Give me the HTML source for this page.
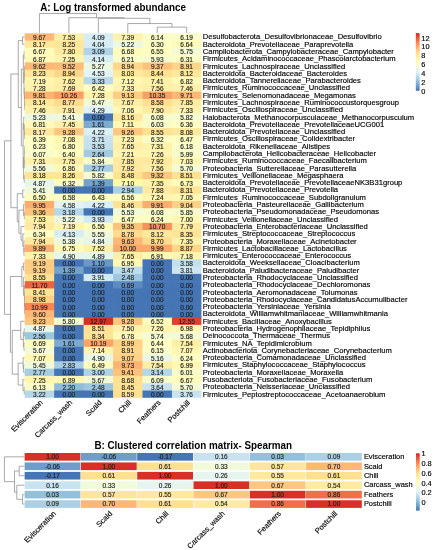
<!DOCTYPE html>
<html><head><meta charset="utf-8"><title>Heatmaps</title><style>html,body{margin:0;padding:0;background:#fff;}svg{display:block;}text{font-family:'Liberation Sans', Arial, Helvetica, sans-serif;}</style></head><body>
<svg width="436" height="550" viewBox="0 0 436 550">
<rect x="0" y="0" width="436" height="550" fill="#fff"/>
<path d="M24.70 292.10H24.70V299.38H24.70 M24.70 313.97H24.70V295.74H24.70 M24.70 306.68H24.70V304.85H24.70 M24.70 284.81H24.68V305.76H24.70 M24.70 73.39H24.65V80.69H24.70 M24.70 146.30H24.62V153.58H24.70 M24.70 102.55H24.62V109.84H24.70 M24.70 131.72H24.61V139.00H24.70 M24.70 95.27H24.56V106.20H24.62 M24.70 66.10H24.56V77.04H24.65 M24.70 124.42H24.49V135.36H24.61 M24.70 160.88H24.48V168.17H24.70 M24.62 149.94H24.40V164.52H24.48 M24.70 87.97H24.35V100.73H24.56 M24.70 211.90H24.35V219.19H24.70 M24.70 175.45H24.29V182.75H24.70 M24.70 328.55H24.28V335.84H24.70 M24.70 386.87H24.27V394.16H24.70 M24.70 51.52H24.12V58.81H24.70 M24.56 71.57H24.09V94.35H24.35 M24.70 343.12H24.00V350.42H24.70 M24.70 248.36H23.98V255.64H24.70 M24.70 241.06H23.95V252.00H23.98 M24.70 117.13H23.73V129.89H24.49 M24.70 262.94H23.68V270.23H24.70 M24.70 365.00H23.68V372.29H24.70 M24.40 157.23H23.64V179.10H24.29 M24.70 204.62H23.61V215.55H24.35 M24.70 277.51H23.41V295.28H24.68 M24.28 332.19H23.35V346.77H24.00 M24.12 55.17H23.32V82.96H24.09 M23.73 123.51H23.12V168.17H23.64 M24.70 357.71H23.10V368.64H23.68 M24.70 379.57H22.93V390.51H24.27 M24.70 233.77H22.83V246.53H23.95 M24.70 190.04H22.73V197.32H24.70 M24.70 36.95H22.47V44.23H24.70 M23.68 266.58H21.84V286.40H23.41 M23.32 69.07H21.33V145.84H23.12 M24.70 226.49H21.01V240.15H22.83 M24.70 321.25H20.78V339.48H23.35 M23.61 210.08H18.92V233.32H21.01 M22.47 40.59H18.28V107.45H21.33 M23.10 363.17H18.15V385.04H22.93 M22.73 193.68H17.26V221.70H18.92 M20.78 330.37H12.25V374.11H18.15 M18.28 74.02H10.89V207.69H17.26 M21.84 276.49H10.42V352.24H12.25 M10.89 140.86H4.51V314.36H10.42" fill="none" stroke="#8c8c8c" stroke-width="0.75"/>
<path d="M157.22 33.30V27.14H186.67V33.30 M127.78 33.30V23.55H171.95V27.14 M98.33 33.30V18.30H149.86V23.55 M68.88 33.30V17.71H124.09V18.30 M39.42 33.30V13.49H96.48V17.71" fill="none" stroke="#8c8c8c" stroke-width="0.75"/>
<rect x="24.70" y="33.30" width="30.05" height="7.89" fill="#fdb875"/>
<rect x="54.15" y="33.30" width="30.05" height="7.89" fill="#feefa7"/>
<rect x="83.60" y="33.30" width="30.05" height="7.89" fill="#d6edf4"/>
<rect x="113.05" y="33.30" width="30.05" height="7.89" fill="#fff3ac"/>
<rect x="142.50" y="33.30" width="30.05" height="7.89" fill="#fafdc8"/>
<rect x="171.95" y="33.30" width="29.45" height="7.89" fill="#fafdc8"/>
<rect x="24.70" y="40.59" width="30.05" height="7.89" fill="#fee89b"/>
<rect x="54.15" y="40.59" width="30.05" height="7.89" fill="#fee699"/>
<rect x="83.60" y="40.59" width="30.05" height="7.89" fill="#d6edf4"/>
<rect x="113.05" y="40.59" width="30.05" height="7.89" fill="#edf8e0"/>
<rect x="142.50" y="40.59" width="30.05" height="7.89" fill="#fcfec4"/>
<rect x="171.95" y="40.59" width="29.45" height="7.89" fill="#fffcbb"/>
<rect x="24.70" y="47.88" width="30.05" height="7.89" fill="#fffcbb"/>
<rect x="54.15" y="47.88" width="30.05" height="7.89" fill="#feeba1"/>
<rect x="83.60" y="47.88" width="30.05" height="7.89" fill="#b0d3e6"/>
<rect x="113.05" y="47.88" width="30.05" height="7.89" fill="#fffcbb"/>
<rect x="142.50" y="47.88" width="30.05" height="7.89" fill="#fffebe"/>
<rect x="171.95" y="47.88" width="29.45" height="7.89" fill="#f5fbd2"/>
<rect x="24.70" y="55.17" width="30.05" height="7.89" fill="#fffab8"/>
<rect x="54.15" y="55.17" width="30.05" height="7.89" fill="#fff5af"/>
<rect x="83.60" y="55.17" width="30.05" height="7.89" fill="#d6edf4"/>
<rect x="113.05" y="55.17" width="30.05" height="7.89" fill="#fafdc8"/>
<rect x="142.50" y="55.17" width="30.05" height="7.89" fill="#f7fccf"/>
<rect x="171.95" y="55.17" width="29.45" height="7.89" fill="#fcfec4"/>
<rect x="24.70" y="62.46" width="30.05" height="7.89" fill="#fdb875"/>
<rect x="54.15" y="62.46" width="30.05" height="7.89" fill="#fdbd79"/>
<rect x="83.60" y="62.46" width="30.05" height="7.89" fill="#edf8e0"/>
<rect x="113.05" y="62.46" width="30.05" height="7.89" fill="#fed689"/>
<rect x="142.50" y="62.46" width="30.05" height="7.89" fill="#fdc27c"/>
<rect x="171.95" y="62.46" width="29.45" height="7.89" fill="#fed689"/>
<rect x="24.70" y="69.75" width="30.05" height="7.89" fill="#fee699"/>
<rect x="54.15" y="69.75" width="30.05" height="7.89" fill="#fed689"/>
<rect x="83.60" y="69.75" width="30.05" height="7.89" fill="#e2f4f5"/>
<rect x="113.05" y="69.75" width="30.05" height="7.89" fill="#fee99e"/>
<rect x="142.50" y="69.75" width="30.05" height="7.89" fill="#fee293"/>
<rect x="171.95" y="69.75" width="29.45" height="7.89" fill="#fee89b"/>
<rect x="24.70" y="77.04" width="30.05" height="7.89" fill="#fff5af"/>
<rect x="54.15" y="77.04" width="30.05" height="7.89" fill="#feefa7"/>
<rect x="83.60" y="77.04" width="30.05" height="7.89" fill="#badaea"/>
<rect x="113.05" y="77.04" width="30.05" height="7.89" fill="#fff7b2"/>
<rect x="142.50" y="77.04" width="30.05" height="7.89" fill="#fff1aa"/>
<rect x="171.95" y="77.04" width="29.45" height="7.89" fill="#fffab8"/>
<rect x="24.70" y="84.33" width="30.05" height="7.89" fill="#fff3ac"/>
<rect x="54.15" y="84.33" width="30.05" height="7.89" fill="#feeda4"/>
<rect x="83.60" y="84.33" width="30.05" height="7.89" fill="#feffc1"/>
<rect x="113.05" y="84.33" width="30.05" height="7.89" fill="#fff3ac"/>
<rect x="142.50" y="84.33" width="30.05" height="7.89" fill="#feefa7"/>
<rect x="171.95" y="84.33" width="29.45" height="7.89" fill="#fff1aa"/>
<rect x="24.70" y="91.62" width="30.05" height="7.89" fill="#fdb372"/>
<rect x="54.15" y="91.62" width="30.05" height="7.89" fill="#fc9f65"/>
<rect x="83.60" y="91.62" width="30.05" height="7.89" fill="#fff3ac"/>
<rect x="113.05" y="91.62" width="30.05" height="7.89" fill="#fecc83"/>
<rect x="142.50" y="91.62" width="30.05" height="7.89" fill="#fc9f65"/>
<rect x="171.95" y="91.62" width="29.45" height="7.89" fill="#fdb875"/>
<rect x="24.70" y="98.91" width="30.05" height="7.89" fill="#fee89b"/>
<rect x="54.15" y="98.91" width="30.05" height="7.89" fill="#fedb8d"/>
<rect x="83.60" y="98.91" width="30.05" height="7.89" fill="#f1fad9"/>
<rect x="113.05" y="98.91" width="30.05" height="7.89" fill="#feeda4"/>
<rect x="142.50" y="98.91" width="30.05" height="7.89" fill="#fee090"/>
<rect x="171.95" y="98.91" width="29.45" height="7.89" fill="#feeba1"/>
<rect x="24.70" y="106.20" width="30.05" height="7.89" fill="#fff1aa"/>
<rect x="54.15" y="106.20" width="30.05" height="7.89" fill="#feeba1"/>
<rect x="83.60" y="106.20" width="30.05" height="7.89" fill="#e0f3f8"/>
<rect x="113.05" y="106.20" width="30.05" height="7.89" fill="#fff7b2"/>
<rect x="142.50" y="106.20" width="30.05" height="7.89" fill="#feeba1"/>
<rect x="171.95" y="106.20" width="29.45" height="7.89" fill="#fff3ac"/>
<rect x="24.70" y="113.49" width="30.05" height="7.89" fill="#edf8e0"/>
<rect x="54.15" y="113.49" width="30.05" height="7.89" fill="#eff9dc"/>
<rect x="83.60" y="113.49" width="30.05" height="7.89" fill="#4575b4"/>
<rect x="113.05" y="113.49" width="30.05" height="7.89" fill="#fee89b"/>
<rect x="142.50" y="113.49" width="30.05" height="7.89" fill="#f8fccb"/>
<rect x="171.95" y="113.49" width="29.45" height="7.89" fill="#f5fbd2"/>
<rect x="24.70" y="120.78" width="30.05" height="7.89" fill="#fffab8"/>
<rect x="54.15" y="120.78" width="30.05" height="7.89" fill="#fff1aa"/>
<rect x="83.60" y="120.78" width="30.05" height="7.89" fill="#7cabd0"/>
<rect x="113.05" y="120.78" width="30.05" height="7.89" fill="#fff7b2"/>
<rect x="142.50" y="120.78" width="30.05" height="7.89" fill="#f8fccb"/>
<rect x="171.95" y="120.78" width="29.45" height="7.89" fill="#feffc1"/>
<rect x="24.70" y="128.07" width="30.05" height="7.89" fill="#fee89b"/>
<rect x="54.15" y="128.07" width="30.05" height="7.89" fill="#fdc77f"/>
<rect x="83.60" y="128.07" width="30.05" height="7.89" fill="#dbf0f6"/>
<rect x="113.05" y="128.07" width="30.05" height="7.89" fill="#fdc77f"/>
<rect x="142.50" y="128.07" width="30.05" height="7.89" fill="#fee293"/>
<rect x="171.95" y="128.07" width="29.45" height="7.89" fill="#fee89b"/>
<rect x="24.70" y="135.36" width="30.05" height="7.89" fill="#feffc1"/>
<rect x="54.15" y="135.36" width="30.05" height="7.89" fill="#fff7b2"/>
<rect x="83.60" y="135.36" width="30.05" height="7.89" fill="#c8e3ef"/>
<rect x="113.05" y="135.36" width="30.05" height="7.89" fill="#fff5af"/>
<rect x="142.50" y="135.36" width="30.05" height="7.89" fill="#fcfec4"/>
<rect x="171.95" y="135.36" width="29.45" height="7.89" fill="#feffc1"/>
<rect x="24.70" y="142.65" width="30.05" height="7.89" fill="#fcfec4"/>
<rect x="54.15" y="142.65" width="30.05" height="7.89" fill="#fffab8"/>
<rect x="83.60" y="142.65" width="30.05" height="7.89" fill="#c3e0ed"/>
<rect x="113.05" y="142.65" width="30.05" height="7.89" fill="#feefa7"/>
<rect x="142.50" y="142.65" width="30.05" height="7.89" fill="#fff3ac"/>
<rect x="171.95" y="142.65" width="29.45" height="7.89" fill="#fafdc8"/>
<rect x="24.70" y="149.94" width="30.05" height="7.89" fill="#f8fccb"/>
<rect x="54.15" y="149.94" width="30.05" height="7.89" fill="#feffc1"/>
<rect x="83.60" y="149.94" width="30.05" height="7.89" fill="#a2cae1"/>
<rect x="113.05" y="149.94" width="30.05" height="7.89" fill="#fff5af"/>
<rect x="142.50" y="149.94" width="30.05" height="7.89" fill="#fff5af"/>
<rect x="171.95" y="149.94" width="29.45" height="7.89" fill="#f8fccb"/>
<rect x="24.70" y="157.23" width="30.05" height="7.89" fill="#fff3ac"/>
<rect x="54.15" y="157.23" width="30.05" height="7.89" fill="#feeda4"/>
<rect x="83.60" y="157.23" width="30.05" height="7.89" fill="#f7fccf"/>
<rect x="113.05" y="157.23" width="30.05" height="7.89" fill="#feeba1"/>
<rect x="142.50" y="157.23" width="30.05" height="7.89" fill="#fee99e"/>
<rect x="171.95" y="157.23" width="29.45" height="7.89" fill="#fff7b2"/>
<rect x="24.70" y="164.52" width="30.05" height="7.89" fill="#f1fad9"/>
<rect x="54.15" y="164.52" width="30.05" height="7.89" fill="#fffab8"/>
<rect x="83.60" y="164.52" width="30.05" height="7.89" fill="#a7cde3"/>
<rect x="113.05" y="164.52" width="30.05" height="7.89" fill="#fee99e"/>
<rect x="142.50" y="164.52" width="30.05" height="7.89" fill="#feefa7"/>
<rect x="171.95" y="164.52" width="29.45" height="7.89" fill="#f3fad5"/>
<rect x="24.70" y="171.81" width="30.05" height="7.89" fill="#fee699"/>
<rect x="54.15" y="171.81" width="30.05" height="7.89" fill="#fee699"/>
<rect x="83.60" y="171.81" width="30.05" height="7.89" fill="#f5fbd2"/>
<rect x="113.05" y="171.81" width="30.05" height="7.89" fill="#fee293"/>
<rect x="142.50" y="171.81" width="30.05" height="7.89" fill="#fdc77f"/>
<rect x="171.95" y="171.81" width="29.45" height="7.89" fill="#fee293"/>
<rect x="24.70" y="179.10" width="30.05" height="7.89" fill="#e8f6ea"/>
<rect x="54.15" y="179.10" width="30.05" height="7.89" fill="#fcfec4"/>
<rect x="83.60" y="179.10" width="30.05" height="7.89" fill="#73a2cc"/>
<rect x="113.05" y="179.10" width="30.05" height="7.89" fill="#fff7b2"/>
<rect x="142.50" y="179.10" width="30.05" height="7.89" fill="#fff3ac"/>
<rect x="171.95" y="179.10" width="29.45" height="7.89" fill="#fffcbb"/>
<rect x="24.70" y="186.39" width="30.05" height="7.89" fill="#eff9dc"/>
<rect x="54.15" y="186.39" width="30.05" height="7.89" fill="#4575b4"/>
<rect x="83.60" y="186.39" width="30.05" height="7.89" fill="#4575b4"/>
<rect x="113.05" y="186.39" width="30.05" height="7.89" fill="#abd0e5"/>
<rect x="142.50" y="186.39" width="30.05" height="7.89" fill="#feeba1"/>
<rect x="171.95" y="186.39" width="29.45" height="7.89" fill="#fee496"/>
<rect x="24.70" y="193.68" width="30.05" height="7.89" fill="#fffebe"/>
<rect x="54.15" y="193.68" width="30.05" height="7.89" fill="#fffebe"/>
<rect x="83.60" y="193.68" width="30.05" height="7.89" fill="#feffc1"/>
<rect x="113.05" y="193.68" width="30.05" height="7.89" fill="#fffebe"/>
<rect x="142.50" y="193.68" width="30.05" height="7.89" fill="#fff5af"/>
<rect x="171.95" y="193.68" width="29.45" height="7.89" fill="#fff7b2"/>
<rect x="24.70" y="200.97" width="30.05" height="7.89" fill="#fdae6f"/>
<rect x="54.15" y="200.97" width="30.05" height="7.89" fill="#e4f4f1"/>
<rect x="83.60" y="200.97" width="30.05" height="7.89" fill="#dbf0f6"/>
<rect x="113.05" y="200.97" width="30.05" height="7.89" fill="#fee293"/>
<rect x="142.50" y="200.97" width="30.05" height="7.89" fill="#fdae6f"/>
<rect x="171.95" y="200.97" width="29.45" height="7.89" fill="#fed186"/>
<rect x="24.70" y="208.26" width="30.05" height="7.89" fill="#fdc27c"/>
<rect x="54.15" y="208.26" width="30.05" height="7.89" fill="#b5d7e8"/>
<rect x="83.60" y="208.26" width="30.05" height="7.89" fill="#4575b4"/>
<rect x="113.05" y="208.26" width="30.05" height="7.89" fill="#f1fad9"/>
<rect x="142.50" y="208.26" width="30.05" height="7.89" fill="#f8fccb"/>
<rect x="171.95" y="208.26" width="29.45" height="7.89" fill="#f7fccf"/>
<rect x="24.70" y="215.55" width="30.05" height="7.89" fill="#feefa7"/>
<rect x="54.15" y="215.55" width="30.05" height="7.89" fill="#edf8e0"/>
<rect x="83.60" y="215.55" width="30.05" height="7.89" fill="#d2eaf3"/>
<rect x="113.05" y="215.55" width="30.05" height="7.89" fill="#feffc1"/>
<rect x="142.50" y="215.55" width="30.05" height="7.89" fill="#fcfec4"/>
<rect x="171.95" y="215.55" width="29.45" height="7.89" fill="#fff8b5"/>
<rect x="24.70" y="222.84" width="30.05" height="7.89" fill="#fee99e"/>
<rect x="54.15" y="222.84" width="30.05" height="7.89" fill="#fff5af"/>
<rect x="83.60" y="222.84" width="30.05" height="7.89" fill="#fffebe"/>
<rect x="113.05" y="222.84" width="30.05" height="7.89" fill="#fdc27c"/>
<rect x="142.50" y="222.84" width="30.05" height="7.89" fill="#fc905b"/>
<rect x="171.95" y="222.84" width="29.45" height="7.89" fill="#feeba1"/>
<rect x="24.70" y="230.13" width="30.05" height="7.89" fill="#fcfec4"/>
<rect x="54.15" y="230.13" width="30.05" height="7.89" fill="#d6edf4"/>
<rect x="83.60" y="230.13" width="30.05" height="7.89" fill="#f1fad9"/>
<rect x="113.05" y="230.13" width="30.05" height="7.89" fill="#fedb8d"/>
<rect x="142.50" y="230.13" width="30.05" height="7.89" fill="#fee89b"/>
<rect x="171.95" y="230.13" width="29.45" height="7.89" fill="#fee496"/>
<rect x="24.70" y="237.42" width="30.05" height="7.89" fill="#fee99e"/>
<rect x="54.15" y="237.42" width="30.05" height="7.89" fill="#eff9dc"/>
<rect x="83.60" y="237.42" width="30.05" height="7.89" fill="#e8f6ea"/>
<rect x="113.05" y="237.42" width="30.05" height="7.89" fill="#fdb875"/>
<rect x="142.50" y="237.42" width="30.05" height="7.89" fill="#fedb8d"/>
<rect x="171.95" y="237.42" width="29.45" height="7.89" fill="#fff3ac"/>
<rect x="24.70" y="244.71" width="30.05" height="7.89" fill="#fdae6f"/>
<rect x="54.15" y="244.71" width="30.05" height="7.89" fill="#fffab8"/>
<rect x="83.60" y="244.71" width="30.05" height="7.89" fill="#fff1aa"/>
<rect x="113.05" y="244.71" width="30.05" height="7.89" fill="#fda96b"/>
<rect x="142.50" y="244.71" width="30.05" height="7.89" fill="#fda96b"/>
<rect x="171.95" y="244.71" width="29.45" height="7.89" fill="#fed689"/>
<rect x="24.70" y="252.00" width="30.05" height="7.89" fill="#fff3ac"/>
<rect x="54.15" y="252.00" width="30.05" height="7.89" fill="#e8f6ea"/>
<rect x="83.60" y="252.00" width="30.05" height="7.89" fill="#e8f6ea"/>
<rect x="113.05" y="252.00" width="30.05" height="7.89" fill="#feefa7"/>
<rect x="142.50" y="252.00" width="30.05" height="7.89" fill="#fff8b5"/>
<rect x="171.95" y="252.00" width="29.45" height="7.89" fill="#fff5af"/>
<rect x="24.70" y="259.29" width="30.05" height="7.89" fill="#fecc83"/>
<rect x="54.15" y="259.29" width="30.05" height="7.89" fill="#4575b4"/>
<rect x="83.60" y="259.29" width="30.05" height="7.89" fill="#6a99c7"/>
<rect x="113.05" y="259.29" width="30.05" height="7.89" fill="#fff8b5"/>
<rect x="142.50" y="259.29" width="30.05" height="7.89" fill="#4575b4"/>
<rect x="171.95" y="259.29" width="29.45" height="7.89" fill="#c3e0ed"/>
<rect x="24.70" y="266.58" width="30.05" height="7.89" fill="#fecc83"/>
<rect x="54.15" y="266.58" width="30.05" height="7.89" fill="#73a2cc"/>
<rect x="83.60" y="266.58" width="30.05" height="7.89" fill="#4575b4"/>
<rect x="113.05" y="266.58" width="30.05" height="7.89" fill="#beddec"/>
<rect x="142.50" y="266.58" width="30.05" height="7.89" fill="#4575b4"/>
<rect x="171.95" y="266.58" width="29.45" height="7.89" fill="#cde6f1"/>
<rect x="24.70" y="273.87" width="30.05" height="7.89" fill="#fee293"/>
<rect x="54.15" y="273.87" width="30.05" height="7.89" fill="#4575b4"/>
<rect x="83.60" y="273.87" width="30.05" height="7.89" fill="#d2eaf3"/>
<rect x="113.05" y="273.87" width="30.05" height="7.89" fill="#9dc7df"/>
<rect x="142.50" y="273.87" width="30.05" height="7.89" fill="#4575b4"/>
<rect x="171.95" y="273.87" width="29.45" height="7.89" fill="#4575b4"/>
<rect x="24.70" y="281.16" width="30.05" height="7.89" fill="#eb6342"/>
<rect x="54.15" y="281.16" width="30.05" height="7.89" fill="#4575b4"/>
<rect x="83.60" y="281.16" width="30.05" height="7.89" fill="#4575b4"/>
<rect x="113.05" y="281.16" width="30.05" height="7.89" fill="#5c8bc0"/>
<rect x="142.50" y="281.16" width="30.05" height="7.89" fill="#4575b4"/>
<rect x="171.95" y="281.16" width="29.45" height="7.89" fill="#4575b4"/>
<rect x="24.70" y="288.45" width="30.05" height="7.89" fill="#fee496"/>
<rect x="54.15" y="288.45" width="30.05" height="7.89" fill="#4575b4"/>
<rect x="83.60" y="288.45" width="30.05" height="7.89" fill="#4575b4"/>
<rect x="113.05" y="288.45" width="30.05" height="7.89" fill="#4575b4"/>
<rect x="142.50" y="288.45" width="30.05" height="7.89" fill="#4575b4"/>
<rect x="171.95" y="288.45" width="29.45" height="7.89" fill="#4575b4"/>
<rect x="24.70" y="295.74" width="30.05" height="7.89" fill="#fed186"/>
<rect x="54.15" y="295.74" width="30.05" height="7.89" fill="#4575b4"/>
<rect x="83.60" y="295.74" width="30.05" height="7.89" fill="#4575b4"/>
<rect x="113.05" y="295.74" width="30.05" height="7.89" fill="#4575b4"/>
<rect x="142.50" y="295.74" width="30.05" height="7.89" fill="#4575b4"/>
<rect x="171.95" y="295.74" width="29.45" height="7.89" fill="#4575b4"/>
<rect x="24.70" y="303.03" width="30.05" height="7.89" fill="#f98554"/>
<rect x="54.15" y="303.03" width="30.05" height="7.89" fill="#4575b4"/>
<rect x="83.60" y="303.03" width="30.05" height="7.89" fill="#4575b4"/>
<rect x="113.05" y="303.03" width="30.05" height="7.89" fill="#4575b4"/>
<rect x="142.50" y="303.03" width="30.05" height="7.89" fill="#4575b4"/>
<rect x="171.95" y="303.03" width="29.45" height="7.89" fill="#4575b4"/>
<rect x="24.70" y="310.32" width="30.05" height="7.89" fill="#fdb875"/>
<rect x="54.15" y="310.32" width="30.05" height="7.89" fill="#4575b4"/>
<rect x="83.60" y="310.32" width="30.05" height="7.89" fill="#4575b4"/>
<rect x="113.05" y="310.32" width="30.05" height="7.89" fill="#4575b4"/>
<rect x="142.50" y="310.32" width="30.05" height="7.89" fill="#4575b4"/>
<rect x="171.95" y="310.32" width="29.45" height="7.89" fill="#4575b4"/>
<rect x="24.70" y="317.61" width="30.05" height="7.89" fill="#fdc77f"/>
<rect x="54.15" y="317.61" width="30.05" height="7.89" fill="#f5fbd2"/>
<rect x="83.60" y="317.61" width="30.05" height="7.89" fill="#d73027"/>
<rect x="113.05" y="317.61" width="30.05" height="7.89" fill="#fdc77f"/>
<rect x="142.50" y="317.61" width="30.05" height="7.89" fill="#fffebe"/>
<rect x="171.95" y="317.61" width="29.45" height="7.89" fill="#de4130"/>
<rect x="24.70" y="324.90" width="30.05" height="7.89" fill="#e8f6ea"/>
<rect x="54.15" y="324.90" width="30.05" height="7.89" fill="#4575b4"/>
<rect x="83.60" y="324.90" width="30.05" height="7.89" fill="#fee293"/>
<rect x="113.05" y="324.90" width="30.05" height="7.89" fill="#fff1aa"/>
<rect x="142.50" y="324.90" width="30.05" height="7.89" fill="#fff5af"/>
<rect x="171.95" y="324.90" width="29.45" height="7.89" fill="#fff8b5"/>
<rect x="24.70" y="332.19" width="30.05" height="7.89" fill="#9dc7df"/>
<rect x="54.15" y="332.19" width="30.05" height="7.89" fill="#4575b4"/>
<rect x="83.60" y="332.19" width="30.05" height="7.89" fill="#fee496"/>
<rect x="113.05" y="332.19" width="30.05" height="7.89" fill="#fffab8"/>
<rect x="142.50" y="332.19" width="30.05" height="7.89" fill="#f5fbd2"/>
<rect x="171.95" y="332.19" width="29.45" height="7.89" fill="#f3fad5"/>
<rect x="24.70" y="339.48" width="30.05" height="7.89" fill="#fffcbb"/>
<rect x="54.15" y="339.48" width="30.05" height="7.89" fill="#7cabd0"/>
<rect x="83.60" y="339.48" width="30.05" height="7.89" fill="#fda468"/>
<rect x="113.05" y="339.48" width="30.05" height="7.89" fill="#fed186"/>
<rect x="142.50" y="339.48" width="30.05" height="7.89" fill="#feffc1"/>
<rect x="171.95" y="339.48" width="29.45" height="7.89" fill="#feefa7"/>
<rect x="24.70" y="346.77" width="30.05" height="7.89" fill="#f3fad5"/>
<rect x="54.15" y="346.77" width="30.05" height="7.89" fill="#4575b4"/>
<rect x="83.60" y="346.77" width="30.05" height="7.89" fill="#fff5af"/>
<rect x="113.05" y="346.77" width="30.05" height="7.89" fill="#fed689"/>
<rect x="142.50" y="346.77" width="30.05" height="7.89" fill="#fafdc8"/>
<rect x="171.95" y="346.77" width="29.45" height="7.89" fill="#fff7b2"/>
<rect x="24.70" y="354.06" width="30.05" height="7.89" fill="#fff7b2"/>
<rect x="54.15" y="354.06" width="30.05" height="7.89" fill="#4575b4"/>
<rect x="83.60" y="354.06" width="30.05" height="7.89" fill="#e8f6ea"/>
<rect x="113.05" y="354.06" width="30.05" height="7.89" fill="#fed186"/>
<rect x="142.50" y="354.06" width="30.05" height="7.89" fill="#ebf7e3"/>
<rect x="171.95" y="354.06" width="29.45" height="7.89" fill="#fcfec4"/>
<rect x="24.70" y="361.35" width="30.05" height="7.89" fill="#f1fad9"/>
<rect x="54.15" y="361.35" width="30.05" height="7.89" fill="#a7cde3"/>
<rect x="83.60" y="361.35" width="30.05" height="7.89" fill="#fffebe"/>
<rect x="113.05" y="361.35" width="30.05" height="7.89" fill="#fdb372"/>
<rect x="142.50" y="361.35" width="30.05" height="7.89" fill="#feefa7"/>
<rect x="171.95" y="361.35" width="29.45" height="7.89" fill="#fff8b5"/>
<rect x="24.70" y="368.64" width="30.05" height="7.89" fill="#a7cde3"/>
<rect x="54.15" y="368.64" width="30.05" height="7.89" fill="#4575b4"/>
<rect x="83.60" y="368.64" width="30.05" height="7.89" fill="#b0d3e6"/>
<rect x="113.05" y="368.64" width="30.05" height="7.89" fill="#fdc27c"/>
<rect x="142.50" y="368.64" width="30.05" height="7.89" fill="#b5d7e8"/>
<rect x="171.95" y="368.64" width="29.45" height="7.89" fill="#f8fccb"/>
<rect x="24.70" y="375.93" width="30.05" height="7.89" fill="#fff5af"/>
<rect x="54.15" y="375.93" width="30.05" height="7.89" fill="#fff8b5"/>
<rect x="83.60" y="375.93" width="30.05" height="7.89" fill="#f3fad5"/>
<rect x="113.05" y="375.93" width="30.05" height="7.89" fill="#fee090"/>
<rect x="142.50" y="375.93" width="30.05" height="7.89" fill="#f8fccb"/>
<rect x="171.95" y="375.93" width="29.45" height="7.89" fill="#fffcbb"/>
<rect x="24.70" y="383.22" width="30.05" height="7.89" fill="#fafdc8"/>
<rect x="54.15" y="383.22" width="30.05" height="7.89" fill="#8fbdda"/>
<rect x="83.60" y="383.22" width="30.05" height="7.89" fill="#9dc7df"/>
<rect x="113.05" y="383.22" width="30.05" height="7.89" fill="#fee293"/>
<rect x="142.50" y="383.22" width="30.05" height="7.89" fill="#c8e3ef"/>
<rect x="171.95" y="383.22" width="29.45" height="7.89" fill="#f3fad5"/>
<rect x="24.70" y="390.51" width="30.05" height="7.29" fill="#b5d7e8"/>
<rect x="54.15" y="390.51" width="30.05" height="7.29" fill="#4575b4"/>
<rect x="83.60" y="390.51" width="30.05" height="7.29" fill="#4575b4"/>
<rect x="113.05" y="390.51" width="30.05" height="7.29" fill="#fee090"/>
<rect x="142.50" y="390.51" width="30.05" height="7.29" fill="#4575b4"/>
<rect x="171.95" y="390.51" width="29.45" height="7.29" fill="#c8e3ef"/>
<g font-size="6.5" fill="#1e1e1e" stroke="#1e1e1e" stroke-width="0.15" text-anchor="middle">
<text x="39.42" y="39.88">9.67</text>
<text x="68.88" y="39.88">7.53</text>
<text x="98.33" y="39.88">4.09</text>
<text x="127.78" y="39.88">7.39</text>
<text x="157.22" y="39.88">6.14</text>
<text x="186.67" y="39.88">6.19</text>
<text x="39.42" y="47.18">8.17</text>
<text x="68.88" y="47.18">8.25</text>
<text x="98.33" y="47.18">4.04</text>
<text x="127.78" y="47.18">5.22</text>
<text x="157.22" y="47.18">6.30</text>
<text x="186.67" y="47.18">6.64</text>
<text x="39.42" y="54.46">6.67</text>
<text x="68.88" y="54.46">7.80</text>
<text x="98.33" y="54.46">3.09</text>
<text x="127.78" y="54.46">6.68</text>
<text x="157.22" y="54.46">6.55</text>
<text x="186.67" y="54.46">5.75</text>
<text x="39.42" y="61.76">6.87</text>
<text x="68.88" y="61.76">7.25</text>
<text x="98.33" y="61.76">4.14</text>
<text x="127.78" y="61.76">6.21</text>
<text x="157.22" y="61.76">5.93</text>
<text x="186.67" y="61.76">6.31</text>
<text x="39.42" y="69.04">9.62</text>
<text x="68.88" y="69.04">9.52</text>
<text x="98.33" y="69.04">5.27</text>
<text x="127.78" y="69.04">8.94</text>
<text x="157.22" y="69.04">9.37</text>
<text x="186.67" y="69.04">8.91</text>
<text x="39.42" y="76.33">8.23</text>
<text x="68.88" y="76.33">8.94</text>
<text x="98.33" y="76.33">4.53</text>
<text x="127.78" y="76.33">8.03</text>
<text x="157.22" y="76.33">8.44</text>
<text x="186.67" y="76.33">8.12</text>
<text x="39.42" y="83.62">7.19</text>
<text x="68.88" y="83.62">7.62</text>
<text x="98.33" y="83.62">3.33</text>
<text x="127.78" y="83.62">7.12</text>
<text x="157.22" y="83.62">7.41</text>
<text x="186.67" y="83.62">6.82</text>
<text x="39.42" y="90.91">7.28</text>
<text x="68.88" y="90.91">7.69</text>
<text x="98.33" y="90.91">6.42</text>
<text x="127.78" y="90.91">7.33</text>
<text x="157.22" y="90.91">7.56</text>
<text x="186.67" y="90.91">7.46</text>
<text x="39.42" y="98.20">9.81</text>
<text x="68.88" y="98.20">10.26</text>
<text x="98.33" y="98.20">7.28</text>
<text x="127.78" y="98.20">9.13</text>
<text x="157.22" y="98.20">10.35</text>
<text x="186.67" y="98.20">9.71</text>
<text x="39.42" y="105.49">8.14</text>
<text x="68.88" y="105.49">8.77</text>
<text x="98.33" y="105.49">5.47</text>
<text x="127.78" y="105.49">7.67</text>
<text x="157.22" y="105.49">8.58</text>
<text x="186.67" y="105.49">7.85</text>
<text x="39.42" y="112.78">7.46</text>
<text x="68.88" y="112.78">7.91</text>
<text x="98.33" y="112.78">4.29</text>
<text x="127.78" y="112.78">7.06</text>
<text x="157.22" y="112.78">7.90</text>
<text x="186.67" y="112.78">7.33</text>
<text x="39.42" y="120.07">5.23</text>
<text x="68.88" y="120.07">5.41</text>
<text x="98.33" y="120.07">0.00</text>
<text x="127.78" y="120.07">8.16</text>
<text x="157.22" y="120.07">6.08</text>
<text x="186.67" y="120.07">5.82</text>
<text x="39.42" y="127.36">6.81</text>
<text x="68.88" y="127.36">7.45</text>
<text x="98.33" y="127.36">1.61</text>
<text x="127.78" y="127.36">7.11</text>
<text x="157.22" y="127.36">6.03</text>
<text x="186.67" y="127.36">6.36</text>
<text x="39.42" y="134.66">8.17</text>
<text x="68.88" y="134.66">9.28</text>
<text x="98.33" y="134.66">4.22</text>
<text x="127.78" y="134.66">9.26</text>
<text x="157.22" y="134.66">8.55</text>
<text x="186.67" y="134.66">8.08</text>
<text x="39.42" y="141.94">6.39</text>
<text x="68.88" y="141.94">7.08</text>
<text x="98.33" y="141.94">3.71</text>
<text x="127.78" y="141.94">7.23</text>
<text x="157.22" y="141.94">6.32</text>
<text x="186.67" y="141.94">6.47</text>
<text x="39.42" y="149.24">6.23</text>
<text x="68.88" y="149.24">6.80</text>
<text x="98.33" y="149.24">3.53</text>
<text x="127.78" y="149.24">7.65</text>
<text x="157.22" y="149.24">7.31</text>
<text x="186.67" y="149.24">6.18</text>
<text x="39.42" y="156.52">6.07</text>
<text x="68.88" y="156.52">6.40</text>
<text x="98.33" y="156.52">2.64</text>
<text x="127.78" y="156.52">7.21</text>
<text x="157.22" y="156.52">7.26</text>
<text x="186.67" y="156.52">5.99</text>
<text x="39.42" y="163.81">7.31</text>
<text x="68.88" y="163.81">7.75</text>
<text x="98.33" y="163.81">5.84</text>
<text x="127.78" y="163.81">7.85</text>
<text x="157.22" y="163.81">7.92</text>
<text x="186.67" y="163.81">7.03</text>
<text x="39.42" y="171.11">5.56</text>
<text x="68.88" y="171.11">6.86</text>
<text x="98.33" y="171.11">2.77</text>
<text x="127.78" y="171.11">7.92</text>
<text x="157.22" y="171.11">7.56</text>
<text x="186.67" y="171.11">5.70</text>
<text x="39.42" y="178.39">8.18</text>
<text x="68.88" y="178.39">8.26</text>
<text x="98.33" y="178.39">5.82</text>
<text x="127.78" y="178.39">8.48</text>
<text x="157.22" y="178.39">9.32</text>
<text x="186.67" y="178.39">8.51</text>
<text x="39.42" y="185.69">4.87</text>
<text x="68.88" y="185.69">6.32</text>
<text x="98.33" y="185.69">1.39</text>
<text x="127.78" y="185.69">7.10</text>
<text x="157.22" y="185.69">7.35</text>
<text x="186.67" y="185.69">6.73</text>
<text x="39.42" y="192.98">5.41</text>
<text x="68.88" y="192.98">0.00</text>
<text x="98.33" y="192.98">0.00</text>
<text x="127.78" y="192.98">2.94</text>
<text x="157.22" y="192.98">7.88</text>
<text x="186.67" y="192.98">8.31</text>
<text x="39.42" y="200.26">6.50</text>
<text x="68.88" y="200.26">6.58</text>
<text x="98.33" y="200.26">6.43</text>
<text x="127.78" y="200.26">6.56</text>
<text x="157.22" y="200.26">7.24</text>
<text x="186.67" y="200.26">7.05</text>
<text x="39.42" y="207.56">9.95</text>
<text x="68.88" y="207.56">4.58</text>
<text x="98.33" y="207.56">4.22</text>
<text x="127.78" y="207.56">8.46</text>
<text x="157.22" y="207.56">9.91</text>
<text x="186.67" y="207.56">9.04</text>
<text x="39.42" y="214.84">9.36</text>
<text x="68.88" y="214.84">3.18</text>
<text x="98.33" y="214.84">0.00</text>
<text x="127.78" y="214.84">5.53</text>
<text x="157.22" y="214.84">6.08</text>
<text x="186.67" y="214.84">5.85</text>
<text x="39.42" y="222.13">7.53</text>
<text x="68.88" y="222.13">5.22</text>
<text x="98.33" y="222.13">3.93</text>
<text x="127.78" y="222.13">6.47</text>
<text x="157.22" y="222.13">6.24</text>
<text x="186.67" y="222.13">7.00</text>
<text x="39.42" y="229.43">7.94</text>
<text x="68.88" y="229.43">7.19</text>
<text x="98.33" y="229.43">6.56</text>
<text x="127.78" y="229.43">9.35</text>
<text x="157.22" y="229.43">10.70</text>
<text x="186.67" y="229.43">7.79</text>
<text x="39.42" y="236.71">6.34</text>
<text x="68.88" y="236.71">4.13</text>
<text x="98.33" y="236.71">5.55</text>
<text x="127.78" y="236.71">8.78</text>
<text x="157.22" y="236.71">8.12</text>
<text x="186.67" y="236.71">8.35</text>
<text x="39.42" y="244.00">7.94</text>
<text x="68.88" y="244.00">5.38</text>
<text x="98.33" y="244.00">4.84</text>
<text x="127.78" y="244.00">9.63</text>
<text x="157.22" y="244.00">8.70</text>
<text x="186.67" y="244.00">7.35</text>
<text x="39.42" y="251.30">9.89</text>
<text x="68.88" y="251.30">6.75</text>
<text x="98.33" y="251.30">7.52</text>
<text x="127.78" y="251.30">10.00</text>
<text x="157.22" y="251.30">9.99</text>
<text x="186.67" y="251.30">8.87</text>
<text x="39.42" y="258.58">7.33</text>
<text x="68.88" y="258.58">4.90</text>
<text x="98.33" y="258.58">4.89</text>
<text x="127.78" y="258.58">7.65</text>
<text x="157.22" y="258.58">6.91</text>
<text x="186.67" y="258.58">7.18</text>
<text x="39.42" y="265.88">9.19</text>
<text x="68.88" y="265.88">0.00</text>
<text x="98.33" y="265.88">1.10</text>
<text x="127.78" y="265.88">6.95</text>
<text x="157.22" y="265.88">0.00</text>
<text x="186.67" y="265.88">3.58</text>
<text x="39.42" y="273.17">9.19</text>
<text x="68.88" y="273.17">1.39</text>
<text x="98.33" y="273.17">0.00</text>
<text x="127.78" y="273.17">3.47</text>
<text x="157.22" y="273.17">0.00</text>
<text x="186.67" y="273.17">3.81</text>
<text x="39.42" y="280.45">8.55</text>
<text x="68.88" y="280.45">0.00</text>
<text x="98.33" y="280.45">3.91</text>
<text x="127.78" y="280.45">2.48</text>
<text x="157.22" y="280.45">0.00</text>
<text x="186.67" y="280.45">0.00</text>
<text x="39.42" y="287.75">11.70</text>
<text x="68.88" y="287.75">0.00</text>
<text x="98.33" y="287.75">0.00</text>
<text x="127.78" y="287.75">0.69</text>
<text x="157.22" y="287.75">0.00</text>
<text x="186.67" y="287.75">0.00</text>
<text x="39.42" y="295.04">8.41</text>
<text x="68.88" y="295.04">0.00</text>
<text x="98.33" y="295.04">0.00</text>
<text x="127.78" y="295.04">0.00</text>
<text x="157.22" y="295.04">0.00</text>
<text x="186.67" y="295.04">0.00</text>
<text x="39.42" y="302.32">8.98</text>
<text x="68.88" y="302.32">0.00</text>
<text x="98.33" y="302.32">0.00</text>
<text x="127.78" y="302.32">0.00</text>
<text x="157.22" y="302.32">0.00</text>
<text x="186.67" y="302.32">0.00</text>
<text x="39.42" y="309.62">10.99</text>
<text x="68.88" y="309.62">0.00</text>
<text x="98.33" y="309.62">0.00</text>
<text x="127.78" y="309.62">0.00</text>
<text x="157.22" y="309.62">0.00</text>
<text x="186.67" y="309.62">0.00</text>
<text x="39.42" y="316.91">9.60</text>
<text x="68.88" y="316.91">0.00</text>
<text x="98.33" y="316.91">0.00</text>
<text x="127.78" y="316.91">0.00</text>
<text x="157.22" y="316.91">0.00</text>
<text x="186.67" y="316.91">0.00</text>
<text x="39.42" y="324.19">9.23</text>
<text x="68.88" y="324.19">5.80</text>
<text x="98.33" y="324.19">12.97</text>
<text x="127.78" y="324.19">9.28</text>
<text x="157.22" y="324.19">6.52</text>
<text x="186.67" y="324.19">12.55</text>
<text x="39.42" y="331.49">4.87</text>
<text x="68.88" y="331.49">0.00</text>
<text x="98.33" y="331.49">8.51</text>
<text x="127.78" y="331.49">7.50</text>
<text x="157.22" y="331.49">7.26</text>
<text x="186.67" y="331.49">6.98</text>
<text x="39.42" y="338.78">2.56</text>
<text x="68.88" y="338.78">0.00</text>
<text x="98.33" y="338.78">8.34</text>
<text x="127.78" y="338.78">6.78</text>
<text x="157.22" y="338.78">5.74</text>
<text x="186.67" y="338.78">5.68</text>
<text x="39.42" y="346.06">6.69</text>
<text x="68.88" y="346.06">1.61</text>
<text x="98.33" y="346.06">10.19</text>
<text x="127.78" y="346.06">8.99</text>
<text x="157.22" y="346.06">6.44</text>
<text x="186.67" y="346.06">7.54</text>
<text x="39.42" y="353.36">5.67</text>
<text x="68.88" y="353.36">0.00</text>
<text x="98.33" y="353.36">7.14</text>
<text x="127.78" y="353.36">8.91</text>
<text x="157.22" y="353.36">6.15</text>
<text x="186.67" y="353.36">7.07</text>
<text x="39.42" y="360.65">7.07</text>
<text x="68.88" y="360.65">0.00</text>
<text x="98.33" y="360.65">4.90</text>
<text x="127.78" y="360.65">9.07</text>
<text x="157.22" y="360.65">5.16</text>
<text x="186.67" y="360.65">6.24</text>
<text x="39.42" y="367.94">5.45</text>
<text x="68.88" y="367.94">2.83</text>
<text x="98.33" y="367.94">6.49</text>
<text x="127.78" y="367.94">9.73</text>
<text x="157.22" y="367.94">7.54</text>
<text x="186.67" y="367.94">6.99</text>
<text x="39.42" y="375.23">2.77</text>
<text x="68.88" y="375.23">0.00</text>
<text x="98.33" y="375.23">3.00</text>
<text x="127.78" y="375.23">9.41</text>
<text x="157.22" y="375.23">3.14</text>
<text x="186.67" y="375.23">6.01</text>
<text x="39.42" y="382.51">7.25</text>
<text x="68.88" y="382.51">6.89</text>
<text x="98.33" y="382.51">5.67</text>
<text x="127.78" y="382.51">8.68</text>
<text x="157.22" y="382.51">6.09</text>
<text x="186.67" y="382.51">6.67</text>
<text x="39.42" y="389.81">6.13</text>
<text x="68.88" y="389.81">2.20</text>
<text x="98.33" y="389.81">2.48</text>
<text x="127.78" y="389.81">8.45</text>
<text x="157.22" y="389.81">3.64</text>
<text x="186.67" y="389.81">5.70</text>
<text x="39.42" y="397.10">3.22</text>
<text x="68.88" y="397.10">0.00</text>
<text x="98.33" y="397.10">0.00</text>
<text x="127.78" y="397.10">8.59</text>
<text x="157.22" y="397.10">0.00</text>
<text x="186.67" y="397.10">3.76</text>
</g>
<g font-size="7.62" fill="#000" stroke="#000" stroke-width="0.15">
<text x="202.70" y="39.39">Desulfobacterota_Desulfovibrionaceae_Desulfovibrio</text>
<text x="202.70" y="46.68">Bacteroidota_Prevotellaceae_Paraprevotella</text>
<text x="202.70" y="53.97">Campilobacterota_Campylobacteraceae_Campylobacter</text>
<text x="202.70" y="61.26">Firmicutes_Acidaminococcaceae_Phascolarctobacterium</text>
<text x="202.70" y="68.55">Firmicutes_Lachnospiraceae_Unclassified</text>
<text x="202.70" y="75.84">Bacteroidota_Bacteroidaceae_Bacteroides</text>
<text x="202.70" y="83.13">Bacteroidota_Tannerellaceae_Parabacteroides</text>
<text x="202.70" y="90.42">Firmicutes_Ruminococcaceae_Unclassified</text>
<text x="202.70" y="97.71">Firmicutes_Selenomonadaceae_Megamonas</text>
<text x="202.70" y="105.00">Firmicutes_Lachnospiraceae_Ruminococcustorquesgroup</text>
<text x="202.70" y="112.29">Firmicutes_Oscillospiraceae_Unclassified</text>
<text x="202.70" y="119.58">Halobacterota_Methanocorpusculaceae_Methanocorpusculum</text>
<text x="202.70" y="126.87">Bacteroidota_Prevotellaceae_PrevotellaceaeUCG001</text>
<text x="202.70" y="134.16">Bacteroidota_Prevotellaceae_Unclassified</text>
<text x="202.70" y="141.45">Firmicutes_Oscillospiraceae_Colidextribacter</text>
<text x="202.70" y="148.74">Bacteroidota_Rikenellaceae_Alistipes</text>
<text x="202.70" y="156.03">Campilobacterota_Helicobacteraceae_Helicobacter</text>
<text x="202.70" y="163.32">Firmicutes_Ruminococcaceae_Faecalibacterium</text>
<text x="202.70" y="170.61">Proteobacteria_Sutterellaceae_Parasutterella</text>
<text x="202.70" y="177.90">Firmicutes_Veillonellaceae_Megasphaera</text>
<text x="202.70" y="185.19">Bacteroidota_Prevotellaceae_PrevotellaceaeNK3B31group</text>
<text x="202.70" y="192.48">Bacteroidota_Prevotellaceae_Prevotella</text>
<text x="202.70" y="199.77">Firmicutes_Ruminococcaceae_Subdoligranulum</text>
<text x="202.70" y="207.06">Proteobacteria_Pasteurellaceae_Gallibacterium</text>
<text x="202.70" y="214.35">Proteobacteria_Pseudomonadaceae_Pseudomonas</text>
<text x="202.70" y="221.64">Firmicutes_Veillonellaceae_Unclassified</text>
<text x="202.70" y="228.93">Proteobacteria_Enterobacteriaceae_Unclassified</text>
<text x="202.70" y="236.22">Firmicutes_Streptococcaceae_Streptococcus</text>
<text x="202.70" y="243.51">Proteobacteria_Moraxellaceae_Acinetobacter</text>
<text x="202.70" y="250.80">Firmicutes_Lactobacillaceae_Lactobacillus</text>
<text x="202.70" y="258.09">Firmicutes_Enterococcaceae_Enterococcus</text>
<text x="202.70" y="265.38">Bacteroidota_Weeksellaceae_Cloacibacterium</text>
<text x="202.70" y="272.67">Bacteroidota_Paludibacteraceae_Paludibacter</text>
<text x="202.70" y="279.96">Proteobacteria_Rhodocyclaceae_Unclassified</text>
<text x="202.70" y="287.25">Proteobacteria_Rhodocyclaceae_Dechloromonas</text>
<text x="202.70" y="294.54">Proteobacteria_Aeromonadaceae_Tolumonas</text>
<text x="202.70" y="301.83">Proteobacteria_Rhodocyclaceae_CandidatusAccumulibacter</text>
<text x="202.70" y="309.12">Proteobacteria_Yersiniaceae_Yersinia</text>
<text x="202.70" y="316.41">Bacteroidota_Williamwhitmaniaceae_Williamwhitmania</text>
<text x="202.70" y="323.70">Firmicutes_Bacillaceae_Anoxybacillus</text>
<text x="202.70" y="330.99">Proteobacteria_Hydrogenophilaceae_Tepidiphilus</text>
<text x="202.70" y="338.28">Deinococcota_Thermaceae_Thermus</text>
<text x="202.70" y="345.57">Firmicutes_NA_Tepidimicrobium</text>
<text x="202.70" y="352.86">Actinobacteriota_Corynebacteriaceae_Corynebacterium</text>
<text x="202.70" y="360.15">Proteobacteria_Comamonadaceae_Unclassified</text>
<text x="202.70" y="367.44">Firmicutes_Staphylococcaceae_Staphylococcus</text>
<text x="202.70" y="374.73">Proteobacteria_Moraxellaceae_Moraxella</text>
<text x="202.70" y="382.02">Fusobacteriota_Fusobacteriaceae_Fusobacterium</text>
<text x="202.70" y="389.31">Proteobacteria_Neisseriaceae_Unclassified</text>
<text x="202.70" y="396.60">Firmicutes_Peptostreptococcaceae_Acetoanaerobium</text>
</g>
<g font-size="7.55" fill="#000" stroke="#000" stroke-width="0.15" text-anchor="end">
<text transform="translate(39.42 399.30) rotate(-45)" dy="0.72em">Evisceration</text>
<text transform="translate(68.88 399.30) rotate(-45)" dy="0.72em">Carcass_wash</text>
<text transform="translate(98.33 399.30) rotate(-45)" dy="0.72em">Scald</text>
<text transform="translate(127.78 399.30) rotate(-45)" dy="0.72em">Chill</text>
<text transform="translate(157.22 399.30) rotate(-45)" dy="0.72em">Feathers</text>
<text transform="translate(186.67 399.30) rotate(-45)" dy="0.72em">Postchill</text>
</g>
<text transform="translate(113.05 10.90) scale(1 1.06)" font-size="9.85" font-weight="bold" text-anchor="middle" fill="#000">A: Log transformed abundance</text>
<rect x="415.90" y="90.02" width="3.5" height="0.576" fill="#4575b4"/><rect x="415.90" y="89.45" width="3.5" height="1.175" fill="#4a79b6"/><rect x="415.90" y="88.87" width="3.5" height="1.175" fill="#4e7eb9"/><rect x="415.90" y="88.30" width="3.5" height="1.175" fill="#5382bb"/><rect x="415.90" y="87.72" width="3.5" height="1.175" fill="#5787bd"/><rect x="415.90" y="87.15" width="3.5" height="1.175" fill="#5c8bc0"/><rect x="415.90" y="86.57" width="3.5" height="1.175" fill="#6190c2"/><rect x="415.90" y="86.00" width="3.5" height="1.175" fill="#6594c5"/><rect x="415.90" y="85.42" width="3.5" height="1.175" fill="#6a99c7"/><rect x="415.90" y="84.84" width="3.5" height="1.175" fill="#6e9dc9"/><rect x="415.90" y="84.27" width="3.5" height="1.175" fill="#73a2cc"/><rect x="415.90" y="83.69" width="3.5" height="1.175" fill="#78a6ce"/><rect x="415.90" y="83.12" width="3.5" height="1.175" fill="#7cabd0"/><rect x="415.90" y="82.54" width="3.5" height="1.175" fill="#81afd3"/><rect x="415.90" y="81.97" width="3.5" height="1.175" fill="#85b4d5"/><rect x="415.90" y="81.39" width="3.5" height="1.175" fill="#8ab8d7"/><rect x="415.90" y="80.82" width="3.5" height="1.175" fill="#8fbdda"/><rect x="415.90" y="80.24" width="3.5" height="1.175" fill="#93c1dc"/><rect x="415.90" y="79.67" width="3.5" height="1.175" fill="#98c4de"/><rect x="415.90" y="79.09" width="3.5" height="1.175" fill="#9dc7df"/><rect x="415.90" y="78.51" width="3.5" height="1.175" fill="#a2cae1"/><rect x="415.90" y="77.94" width="3.5" height="1.175" fill="#a7cde3"/><rect x="415.90" y="77.36" width="3.5" height="1.175" fill="#abd0e5"/><rect x="415.90" y="76.79" width="3.5" height="1.175" fill="#b0d3e6"/><rect x="415.90" y="76.21" width="3.5" height="1.175" fill="#b5d7e8"/><rect x="415.90" y="75.64" width="3.5" height="1.175" fill="#badaea"/><rect x="415.90" y="75.06" width="3.5" height="1.175" fill="#beddec"/><rect x="415.90" y="74.49" width="3.5" height="1.175" fill="#c3e0ed"/><rect x="415.90" y="73.91" width="3.5" height="1.175" fill="#c8e3ef"/><rect x="415.90" y="73.33" width="3.5" height="1.175" fill="#cde6f1"/><rect x="415.90" y="72.76" width="3.5" height="1.175" fill="#d2eaf3"/><rect x="415.90" y="72.18" width="3.5" height="1.175" fill="#d6edf4"/><rect x="415.90" y="71.61" width="3.5" height="1.175" fill="#dbf0f6"/><rect x="415.90" y="71.03" width="3.5" height="1.175" fill="#e0f3f8"/><rect x="415.90" y="70.46" width="3.5" height="1.175" fill="#e2f4f5"/><rect x="415.90" y="69.88" width="3.5" height="1.175" fill="#e4f4f1"/><rect x="415.90" y="69.31" width="3.5" height="1.175" fill="#e6f5ee"/><rect x="415.90" y="68.73" width="3.5" height="1.175" fill="#e8f6ea"/><rect x="415.90" y="68.16" width="3.5" height="1.175" fill="#e9f7e7"/><rect x="415.90" y="67.58" width="3.5" height="1.175" fill="#ebf7e3"/><rect x="415.90" y="67.00" width="3.5" height="1.175" fill="#edf8e0"/><rect x="415.90" y="66.43" width="3.5" height="1.175" fill="#eff9dc"/><rect x="415.90" y="65.85" width="3.5" height="1.175" fill="#f1fad9"/><rect x="415.90" y="65.28" width="3.5" height="1.175" fill="#f3fad5"/><rect x="415.90" y="64.70" width="3.5" height="1.175" fill="#f5fbd2"/><rect x="415.90" y="64.13" width="3.5" height="1.175" fill="#f7fccf"/><rect x="415.90" y="63.55" width="3.5" height="1.175" fill="#f8fccb"/><rect x="415.90" y="62.98" width="3.5" height="1.175" fill="#fafdc8"/><rect x="415.90" y="62.40" width="3.5" height="1.175" fill="#fcfec4"/><rect x="415.90" y="61.82" width="3.5" height="1.175" fill="#feffc1"/><rect x="415.90" y="61.25" width="3.5" height="1.175" fill="#fffebe"/><rect x="415.90" y="60.67" width="3.5" height="1.175" fill="#fffcbb"/><rect x="415.90" y="60.10" width="3.5" height="1.175" fill="#fffab8"/><rect x="415.90" y="59.52" width="3.5" height="1.175" fill="#fff8b5"/><rect x="415.90" y="58.95" width="3.5" height="1.175" fill="#fff7b2"/><rect x="415.90" y="58.37" width="3.5" height="1.175" fill="#fff5af"/><rect x="415.90" y="57.80" width="3.5" height="1.175" fill="#fff3ac"/><rect x="415.90" y="57.22" width="3.5" height="1.175" fill="#fff1aa"/><rect x="415.90" y="56.65" width="3.5" height="1.175" fill="#feefa7"/><rect x="415.90" y="56.07" width="3.5" height="1.175" fill="#feeda4"/><rect x="415.90" y="55.49" width="3.5" height="1.175" fill="#feeba1"/><rect x="415.90" y="54.92" width="3.5" height="1.175" fill="#fee99e"/><rect x="415.90" y="54.34" width="3.5" height="1.175" fill="#fee89b"/><rect x="415.90" y="53.77" width="3.5" height="1.175" fill="#fee699"/><rect x="415.90" y="53.19" width="3.5" height="1.175" fill="#fee496"/><rect x="415.90" y="52.62" width="3.5" height="1.175" fill="#fee293"/><rect x="415.90" y="52.04" width="3.5" height="1.175" fill="#fee090"/><rect x="415.90" y="51.47" width="3.5" height="1.175" fill="#fedb8d"/><rect x="415.90" y="50.89" width="3.5" height="1.175" fill="#fed689"/><rect x="415.90" y="50.31" width="3.5" height="1.175" fill="#fed186"/><rect x="415.90" y="49.74" width="3.5" height="1.175" fill="#fecc83"/><rect x="415.90" y="49.16" width="3.5" height="1.175" fill="#fdc77f"/><rect x="415.90" y="48.59" width="3.5" height="1.175" fill="#fdc27c"/><rect x="415.90" y="48.01" width="3.5" height="1.175" fill="#fdbd79"/><rect x="415.90" y="47.44" width="3.5" height="1.175" fill="#fdb875"/><rect x="415.90" y="46.86" width="3.5" height="1.175" fill="#fdb372"/><rect x="415.90" y="46.29" width="3.5" height="1.175" fill="#fdae6f"/><rect x="415.90" y="45.71" width="3.5" height="1.175" fill="#fda96b"/><rect x="415.90" y="45.14" width="3.5" height="1.175" fill="#fda468"/><rect x="415.90" y="44.56" width="3.5" height="1.175" fill="#fc9f65"/><rect x="415.90" y="43.98" width="3.5" height="1.175" fill="#fc9a61"/><rect x="415.90" y="43.41" width="3.5" height="1.175" fill="#fc955e"/><rect x="415.90" y="42.83" width="3.5" height="1.175" fill="#fc905b"/><rect x="415.90" y="42.26" width="3.5" height="1.175" fill="#fb8a57"/><rect x="415.90" y="41.68" width="3.5" height="1.175" fill="#f98554"/><rect x="415.90" y="41.11" width="3.5" height="1.175" fill="#f67f51"/><rect x="415.90" y="40.53" width="3.5" height="1.175" fill="#f4794e"/><rect x="415.90" y="39.96" width="3.5" height="1.175" fill="#f2744b"/><rect x="415.90" y="39.38" width="3.5" height="1.175" fill="#f06e48"/><rect x="415.90" y="38.80" width="3.5" height="1.175" fill="#ed6845"/><rect x="415.90" y="38.23" width="3.5" height="1.175" fill="#eb6342"/><rect x="415.90" y="37.65" width="3.5" height="1.175" fill="#e95d3f"/><rect x="415.90" y="37.08" width="3.5" height="1.175" fill="#e7573c"/><rect x="415.90" y="36.50" width="3.5" height="1.175" fill="#e45239"/><rect x="415.90" y="35.93" width="3.5" height="1.175" fill="#e24c36"/><rect x="415.90" y="35.35" width="3.5" height="1.175" fill="#e04733"/><rect x="415.90" y="34.78" width="3.5" height="1.175" fill="#de4130"/><rect x="415.90" y="34.20" width="3.5" height="1.175" fill="#db3b2d"/><rect x="415.90" y="33.63" width="3.5" height="1.175" fill="#d9362a"/><rect x="415.90" y="33.05" width="3.5" height="1.175" fill="#d73027"/><g font-size="7.4" fill="#000" stroke="#000" stroke-width="0.15"><text x="421.30" y="93.76">0</text><text x="421.30" y="84.89">2</text><text x="421.30" y="76.02">4</text><text x="421.30" y="67.14">6</text><text x="421.30" y="58.27">8</text><text x="421.30" y="49.39">10</text><text x="421.30" y="40.52">12</text></g>
<path d="M24.40 456.83H4.40V481.63H14.50 M19.20 471.00H14.50V492.26H16.80 M24.40 466.28H19.20V475.73H24.40 M24.40 485.18H16.80V499.35H22.60 M24.40 494.62H22.60V504.08H24.40" fill="none" stroke="#8c8c8c" stroke-width="0.75"/>
<rect x="24.65" y="453.00" width="55.78" height="7.65" fill="#d73027"/>
<rect x="80.93" y="453.00" width="55.78" height="7.65" fill="#6e9dc9"/>
<rect x="137.21" y="453.00" width="55.78" height="7.65" fill="#4575b4"/>
<rect x="193.49" y="453.00" width="55.78" height="7.65" fill="#c8e3ef"/>
<rect x="249.77" y="453.00" width="55.78" height="7.65" fill="#93c1dc"/>
<rect x="306.05" y="453.00" width="55.78" height="7.65" fill="#abd0e5"/>
<rect x="24.65" y="462.45" width="55.78" height="7.65" fill="#6e9dc9"/>
<rect x="80.93" y="462.45" width="55.78" height="7.65" fill="#d73027"/>
<rect x="137.21" y="462.45" width="55.78" height="7.65" fill="#fee090"/>
<rect x="193.49" y="462.45" width="55.78" height="7.65" fill="#f1fad9"/>
<rect x="249.77" y="462.45" width="55.78" height="7.65" fill="#fee699"/>
<rect x="306.05" y="462.45" width="55.78" height="7.65" fill="#fdb875"/>
<rect x="24.65" y="471.90" width="55.78" height="7.65" fill="#4575b4"/>
<rect x="80.93" y="471.90" width="55.78" height="7.65" fill="#fee090"/>
<rect x="137.21" y="471.90" width="55.78" height="7.65" fill="#d73027"/>
<rect x="193.49" y="471.90" width="55.78" height="7.65" fill="#e6f5ee"/>
<rect x="249.77" y="471.90" width="55.78" height="7.65" fill="#fee99e"/>
<rect x="306.05" y="471.90" width="55.78" height="7.65" fill="#fee090"/>
<rect x="24.65" y="481.35" width="55.78" height="7.65" fill="#c8e3ef"/>
<rect x="80.93" y="481.35" width="55.78" height="7.65" fill="#f1fad9"/>
<rect x="137.21" y="481.35" width="55.78" height="7.65" fill="#e6f5ee"/>
<rect x="193.49" y="481.35" width="55.78" height="7.65" fill="#d73027"/>
<rect x="249.77" y="481.35" width="55.78" height="7.65" fill="#fdc77f"/>
<rect x="306.05" y="481.35" width="55.78" height="7.65" fill="#feeba1"/>
<rect x="24.65" y="490.80" width="55.78" height="7.65" fill="#93c1dc"/>
<rect x="80.93" y="490.80" width="55.78" height="7.65" fill="#fee699"/>
<rect x="137.21" y="490.80" width="55.78" height="7.65" fill="#fee99e"/>
<rect x="193.49" y="490.80" width="55.78" height="7.65" fill="#fdc77f"/>
<rect x="249.77" y="490.80" width="55.78" height="7.65" fill="#d73027"/>
<rect x="306.05" y="490.80" width="55.78" height="7.65" fill="#f06e48"/>
<rect x="24.65" y="500.25" width="55.78" height="7.65" fill="#abd0e5"/>
<rect x="80.93" y="500.25" width="55.78" height="7.65" fill="#fdb875"/>
<rect x="137.21" y="500.25" width="55.78" height="7.65" fill="#fee090"/>
<rect x="193.49" y="500.25" width="55.78" height="7.65" fill="#feeba1"/>
<rect x="249.77" y="500.25" width="55.78" height="7.65" fill="#f06e48"/>
<rect x="306.05" y="500.25" width="55.78" height="7.65" fill="#d73027"/>
<g font-size="6.5" fill="#1e1e1e" stroke="#1e1e1e" stroke-width="0.15" text-anchor="middle">
<text x="52.54" y="459.17">1.00</text>
<text x="108.82" y="459.17">-0.06</text>
<text x="165.10" y="459.17">-0.17</text>
<text x="221.38" y="459.17">0.16</text>
<text x="277.66" y="459.17">0.03</text>
<text x="333.94" y="459.17">0.09</text>
<text x="52.54" y="468.62">-0.06</text>
<text x="108.82" y="468.62">1.00</text>
<text x="165.10" y="468.62">0.61</text>
<text x="221.38" y="468.62">0.33</text>
<text x="277.66" y="468.62">0.57</text>
<text x="333.94" y="468.62">0.70</text>
<text x="52.54" y="478.06">-0.17</text>
<text x="108.82" y="478.06">0.61</text>
<text x="165.10" y="478.06">1.00</text>
<text x="221.38" y="478.06">0.26</text>
<text x="277.66" y="478.06">0.55</text>
<text x="333.94" y="478.06">0.61</text>
<text x="52.54" y="487.51">0.16</text>
<text x="108.82" y="487.51">0.33</text>
<text x="165.10" y="487.51">0.26</text>
<text x="221.38" y="487.51">1.00</text>
<text x="277.66" y="487.51">0.67</text>
<text x="333.94" y="487.51">0.54</text>
<text x="52.54" y="496.96">0.03</text>
<text x="108.82" y="496.96">0.57</text>
<text x="165.10" y="496.96">0.55</text>
<text x="221.38" y="496.96">0.67</text>
<text x="277.66" y="496.96">1.00</text>
<text x="333.94" y="496.96">0.86</text>
<text x="52.54" y="506.42">0.09</text>
<text x="108.82" y="506.42">0.70</text>
<text x="165.10" y="506.42">0.61</text>
<text x="221.38" y="506.42">0.54</text>
<text x="277.66" y="506.42">0.86</text>
<text x="333.94" y="506.42">1.00</text>
</g>
<g font-size="7.45" fill="#000" stroke="#000" stroke-width="0.15">
<text x="363.88" y="459.11">Evisceration</text>
<text x="363.88" y="468.56">Scald</text>
<text x="363.88" y="478.01">Chill</text>
<text x="363.88" y="487.46">Carcass_wash</text>
<text x="363.88" y="496.91">Feathers</text>
<text x="363.88" y="506.36">Postchill</text>
</g>
<g font-size="7.55" fill="#000" stroke="#000" stroke-width="0.15" text-anchor="end">
<text transform="translate(52.54 510.30) rotate(-45)" dy="0.72em">Evisceration</text>
<text transform="translate(108.82 510.30) rotate(-45)" dy="0.72em">Scald</text>
<text transform="translate(165.10 510.30) rotate(-45)" dy="0.72em">Chill</text>
<text transform="translate(221.38 510.30) rotate(-45)" dy="0.72em">Carcass_wash</text>
<text transform="translate(277.66 510.30) rotate(-45)" dy="0.72em">Feathers</text>
<text transform="translate(333.94 510.30) rotate(-45)" dy="0.72em">Postchill</text>
</g>
<text transform="translate(193.24 449.20) scale(1 1.06)" font-size="9.85" font-weight="bold" text-anchor="middle" fill="#000">B: Clustered correlation matrix- Spearman</text>
<rect x="416.00" y="509.83" width="3.5" height="0.571" fill="#4575b4"/><rect x="416.00" y="509.26" width="3.5" height="1.171" fill="#4a79b6"/><rect x="416.00" y="508.69" width="3.5" height="1.171" fill="#4e7eb9"/><rect x="416.00" y="508.12" width="3.5" height="1.171" fill="#5382bb"/><rect x="416.00" y="507.55" width="3.5" height="1.171" fill="#5787bd"/><rect x="416.00" y="506.97" width="3.5" height="1.171" fill="#5c8bc0"/><rect x="416.00" y="506.40" width="3.5" height="1.171" fill="#6190c2"/><rect x="416.00" y="505.83" width="3.5" height="1.171" fill="#6594c5"/><rect x="416.00" y="505.26" width="3.5" height="1.171" fill="#6a99c7"/><rect x="416.00" y="504.69" width="3.5" height="1.171" fill="#6e9dc9"/><rect x="416.00" y="504.12" width="3.5" height="1.171" fill="#73a2cc"/><rect x="416.00" y="503.55" width="3.5" height="1.171" fill="#78a6ce"/><rect x="416.00" y="502.98" width="3.5" height="1.171" fill="#7cabd0"/><rect x="416.00" y="502.41" width="3.5" height="1.171" fill="#81afd3"/><rect x="416.00" y="501.84" width="3.5" height="1.171" fill="#85b4d5"/><rect x="416.00" y="501.26" width="3.5" height="1.171" fill="#8ab8d7"/><rect x="416.00" y="500.69" width="3.5" height="1.171" fill="#8fbdda"/><rect x="416.00" y="500.12" width="3.5" height="1.171" fill="#93c1dc"/><rect x="416.00" y="499.55" width="3.5" height="1.171" fill="#98c4de"/><rect x="416.00" y="498.98" width="3.5" height="1.171" fill="#9dc7df"/><rect x="416.00" y="498.41" width="3.5" height="1.171" fill="#a2cae1"/><rect x="416.00" y="497.84" width="3.5" height="1.171" fill="#a7cde3"/><rect x="416.00" y="497.27" width="3.5" height="1.171" fill="#abd0e5"/><rect x="416.00" y="496.70" width="3.5" height="1.171" fill="#b0d3e6"/><rect x="416.00" y="496.12" width="3.5" height="1.171" fill="#b5d7e8"/><rect x="416.00" y="495.55" width="3.5" height="1.171" fill="#badaea"/><rect x="416.00" y="494.98" width="3.5" height="1.171" fill="#beddec"/><rect x="416.00" y="494.41" width="3.5" height="1.171" fill="#c3e0ed"/><rect x="416.00" y="493.84" width="3.5" height="1.171" fill="#c8e3ef"/><rect x="416.00" y="493.27" width="3.5" height="1.171" fill="#cde6f1"/><rect x="416.00" y="492.70" width="3.5" height="1.171" fill="#d2eaf3"/><rect x="416.00" y="492.13" width="3.5" height="1.171" fill="#d6edf4"/><rect x="416.00" y="491.56" width="3.5" height="1.171" fill="#dbf0f6"/><rect x="416.00" y="490.99" width="3.5" height="1.171" fill="#e0f3f8"/><rect x="416.00" y="490.42" width="3.5" height="1.171" fill="#e2f4f5"/><rect x="416.00" y="489.84" width="3.5" height="1.171" fill="#e4f4f1"/><rect x="416.00" y="489.27" width="3.5" height="1.171" fill="#e6f5ee"/><rect x="416.00" y="488.70" width="3.5" height="1.171" fill="#e8f6ea"/><rect x="416.00" y="488.13" width="3.5" height="1.171" fill="#e9f7e7"/><rect x="416.00" y="487.56" width="3.5" height="1.171" fill="#ebf7e3"/><rect x="416.00" y="486.99" width="3.5" height="1.171" fill="#edf8e0"/><rect x="416.00" y="486.42" width="3.5" height="1.171" fill="#eff9dc"/><rect x="416.00" y="485.85" width="3.5" height="1.171" fill="#f1fad9"/><rect x="416.00" y="485.28" width="3.5" height="1.171" fill="#f3fad5"/><rect x="416.00" y="484.71" width="3.5" height="1.171" fill="#f5fbd2"/><rect x="416.00" y="484.13" width="3.5" height="1.171" fill="#f7fccf"/><rect x="416.00" y="483.56" width="3.5" height="1.171" fill="#f8fccb"/><rect x="416.00" y="482.99" width="3.5" height="1.171" fill="#fafdc8"/><rect x="416.00" y="482.42" width="3.5" height="1.171" fill="#fcfec4"/><rect x="416.00" y="481.85" width="3.5" height="1.171" fill="#feffc1"/><rect x="416.00" y="481.28" width="3.5" height="1.171" fill="#fffebe"/><rect x="416.00" y="480.71" width="3.5" height="1.171" fill="#fffcbb"/><rect x="416.00" y="480.14" width="3.5" height="1.171" fill="#fffab8"/><rect x="416.00" y="479.57" width="3.5" height="1.171" fill="#fff8b5"/><rect x="416.00" y="479.00" width="3.5" height="1.171" fill="#fff7b2"/><rect x="416.00" y="478.42" width="3.5" height="1.171" fill="#fff5af"/><rect x="416.00" y="477.85" width="3.5" height="1.171" fill="#fff3ac"/><rect x="416.00" y="477.28" width="3.5" height="1.171" fill="#fff1aa"/><rect x="416.00" y="476.71" width="3.5" height="1.171" fill="#feefa7"/><rect x="416.00" y="476.14" width="3.5" height="1.171" fill="#feeda4"/><rect x="416.00" y="475.57" width="3.5" height="1.171" fill="#feeba1"/><rect x="416.00" y="475.00" width="3.5" height="1.171" fill="#fee99e"/><rect x="416.00" y="474.43" width="3.5" height="1.171" fill="#fee89b"/><rect x="416.00" y="473.86" width="3.5" height="1.171" fill="#fee699"/><rect x="416.00" y="473.29" width="3.5" height="1.171" fill="#fee496"/><rect x="416.00" y="472.71" width="3.5" height="1.171" fill="#fee293"/><rect x="416.00" y="472.14" width="3.5" height="1.171" fill="#fee090"/><rect x="416.00" y="471.57" width="3.5" height="1.171" fill="#fedb8d"/><rect x="416.00" y="471.00" width="3.5" height="1.171" fill="#fed689"/><rect x="416.00" y="470.43" width="3.5" height="1.171" fill="#fed186"/><rect x="416.00" y="469.86" width="3.5" height="1.171" fill="#fecc83"/><rect x="416.00" y="469.29" width="3.5" height="1.171" fill="#fdc77f"/><rect x="416.00" y="468.72" width="3.5" height="1.171" fill="#fdc27c"/><rect x="416.00" y="468.15" width="3.5" height="1.171" fill="#fdbd79"/><rect x="416.00" y="467.57" width="3.5" height="1.171" fill="#fdb875"/><rect x="416.00" y="467.00" width="3.5" height="1.171" fill="#fdb372"/><rect x="416.00" y="466.43" width="3.5" height="1.171" fill="#fdae6f"/><rect x="416.00" y="465.86" width="3.5" height="1.171" fill="#fda96b"/><rect x="416.00" y="465.29" width="3.5" height="1.171" fill="#fda468"/><rect x="416.00" y="464.72" width="3.5" height="1.171" fill="#fc9f65"/><rect x="416.00" y="464.15" width="3.5" height="1.171" fill="#fc9a61"/><rect x="416.00" y="463.58" width="3.5" height="1.171" fill="#fc955e"/><rect x="416.00" y="463.01" width="3.5" height="1.171" fill="#fc905b"/><rect x="416.00" y="462.44" width="3.5" height="1.171" fill="#fb8a57"/><rect x="416.00" y="461.87" width="3.5" height="1.171" fill="#f98554"/><rect x="416.00" y="461.29" width="3.5" height="1.171" fill="#f67f51"/><rect x="416.00" y="460.72" width="3.5" height="1.171" fill="#f4794e"/><rect x="416.00" y="460.15" width="3.5" height="1.171" fill="#f2744b"/><rect x="416.00" y="459.58" width="3.5" height="1.171" fill="#f06e48"/><rect x="416.00" y="459.01" width="3.5" height="1.171" fill="#ed6845"/><rect x="416.00" y="458.44" width="3.5" height="1.171" fill="#eb6342"/><rect x="416.00" y="457.87" width="3.5" height="1.171" fill="#e95d3f"/><rect x="416.00" y="457.30" width="3.5" height="1.171" fill="#e7573c"/><rect x="416.00" y="456.73" width="3.5" height="1.171" fill="#e45239"/><rect x="416.00" y="456.16" width="3.5" height="1.171" fill="#e24c36"/><rect x="416.00" y="455.58" width="3.5" height="1.171" fill="#e04733"/><rect x="416.00" y="455.01" width="3.5" height="1.171" fill="#de4130"/><rect x="416.00" y="454.44" width="3.5" height="1.171" fill="#db3b2d"/><rect x="416.00" y="453.87" width="3.5" height="1.171" fill="#d9362a"/><rect x="416.00" y="453.30" width="3.5" height="1.171" fill="#d73027"/><g font-size="7.4" fill="#000" stroke="#000" stroke-width="0.15"><text x="421.40" y="505.07">0</text><text x="421.40" y="495.31">0.2</text><text x="421.40" y="485.55">0.4</text><text x="421.40" y="475.79">0.6</text><text x="421.40" y="466.02">0.8</text><text x="421.40" y="456.26">1</text></g>
</svg></body></html>
